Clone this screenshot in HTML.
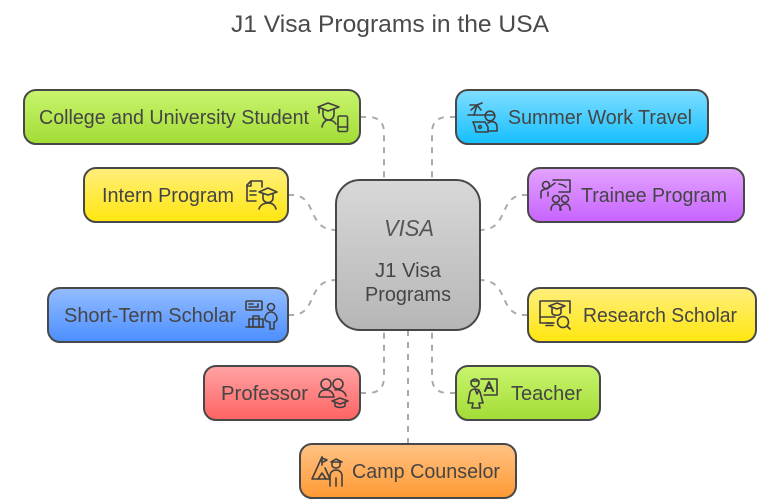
<!DOCTYPE html>
<html><head><meta charset="utf-8"><style>
html,body{margin:0;padding:0;background:#fff;width:780px;height:500px;overflow:hidden}
svg{display:block}
text{font-family:"Liberation Sans",sans-serif;font-size:20px;fill:#454545}
.b{stroke:#484848;stroke-width:2}
.c{fill:none;stroke:#aaaaaa;stroke-width:2;stroke-dasharray:6 6}
.i{fill:none;stroke:#3f3f3f;stroke-width:1.6;stroke-linecap:round;stroke-linejoin:round}
</style></head><body>
<svg width="780" height="500" viewBox="0 0 780 500" xmlns="http://www.w3.org/2000/svg">
<defs>
<linearGradient id="gr" x1="0" y1="0" x2="0" y2="1"><stop offset="0" stop-color="#c9f56e"/><stop offset="1" stop-color="#a2dc35"/></linearGradient>
<linearGradient id="ye" x1="0" y1="0" x2="0" y2="1"><stop offset="0" stop-color="#ffef7c"/><stop offset="1" stop-color="#ffe60f"/></linearGradient>
<linearGradient id="cy" x1="0" y1="0" x2="0" y2="1"><stop offset="0" stop-color="#80deff"/><stop offset="1" stop-color="#14bfff"/></linearGradient>
<linearGradient id="pu" x1="0" y1="0" x2="0" y2="1"><stop offset="0" stop-color="#e3a3ff"/><stop offset="1" stop-color="#c763ff"/></linearGradient>
<linearGradient id="bl" x1="0" y1="0" x2="0" y2="1"><stop offset="0" stop-color="#94bdff"/><stop offset="1" stop-color="#4b8eff"/></linearGradient>
<linearGradient id="re" x1="0" y1="0" x2="0" y2="1"><stop offset="0" stop-color="#ffa3a3"/><stop offset="1" stop-color="#ff6363"/></linearGradient>
<linearGradient id="or" x1="0" y1="0" x2="0" y2="1"><stop offset="0" stop-color="#ffc285"/><stop offset="1" stop-color="#ff9a33"/></linearGradient>
<linearGradient id="gy" x1="0" y1="0" x2="0" y2="1"><stop offset="0" stop-color="#d8d8d8"/><stop offset="1" stop-color="#b6b6b6"/></linearGradient>
</defs>

<text x="390" y="32" text-anchor="middle" textLength="318" lengthAdjust="spacingAndGlyphs" style="font-size:24px;fill:#4a4a4a">J1 Visa Programs in the USA</text>

<!-- connectors -->
<path class="c" d="M360 117H368Q384 117 384 133V180"/>
<path class="c" d="M456 117H448Q432 117 432 133V180"/>
<path class="c" d="M288 195H292C318 195 306 230 336 230"/>
<path class="c" d="M528 195H524C498 195 510 230 480 230"/>
<path class="c" d="M288 315H292C318 315 306 280 336 280"/>
<path class="c" d="M528 315H524C498 315 510 280 480 280"/>
<path class="c" d="M360 393H368Q384 393 384 377V330"/>
<path class="c" d="M456 393H448Q432 393 432 377V330"/>
<path class="c" d="M408 444V330"/>

<!-- nodes -->
<rect class="b" x="24" y="90" width="336" height="54" rx="12" fill="url(#gr)"/>
<rect class="b" x="84" y="168" width="204" height="54" rx="12" fill="url(#ye)"/>
<rect class="b" x="48" y="288" width="240" height="54" rx="12" fill="url(#bl)"/>
<rect class="b" x="204" y="366" width="156" height="54" rx="12" fill="url(#re)"/>
<rect class="b" x="456" y="90" width="252" height="54" rx="12" fill="url(#cy)"/>
<rect class="b" x="528" y="168" width="216" height="54" rx="12" fill="url(#pu)"/>
<rect class="b" x="528" y="288" width="228" height="54" rx="12" fill="url(#ye)"/>
<rect class="b" x="456" y="366" width="144" height="54" rx="12" fill="url(#gr)"/>
<rect class="b" x="300" y="444" width="216" height="54" rx="12" fill="url(#or)"/>
<rect class="b" x="336" y="180" width="144" height="150" rx="24" fill="url(#gy)"/>

<!-- labels -->
<text x="39" y="124" textLength="270" lengthAdjust="spacingAndGlyphs">College and University Student</text>
<text x="102" y="202" textLength="132" lengthAdjust="spacingAndGlyphs">Intern Program</text>
<text x="64" y="322" textLength="172" lengthAdjust="spacingAndGlyphs">Short-Term Scholar</text>
<text x="221" y="400" textLength="87" lengthAdjust="spacingAndGlyphs">Professor</text>
<text x="508" y="124" textLength="184" lengthAdjust="spacingAndGlyphs">Summer Work Travel</text>
<text x="581" y="202" textLength="146" lengthAdjust="spacingAndGlyphs">Trainee Program</text>
<text x="583" y="322" textLength="154" lengthAdjust="spacingAndGlyphs">Research Scholar</text>
<text x="511" y="400" textLength="71" lengthAdjust="spacingAndGlyphs">Teacher</text>
<text x="352" y="478" textLength="148" lengthAdjust="spacingAndGlyphs">Camp Counselor</text>
<text x="375" y="277" textLength="66" lengthAdjust="spacingAndGlyphs">J1 Visa</text>
<text x="365" y="301" textLength="86" lengthAdjust="spacingAndGlyphs">Programs</text>
<text x="384" y="236" textLength="50" lengthAdjust="spacingAndGlyphs" style="font-size:23px;font-style:italic;fill:#555">VISA</text>

<!-- icons -->
<g class="i">
<!-- college -->
<path d="M318 107L328 103L339 107L328 111Z"/><path d="M319 107V113M323 109V114C323 122 334 122 334 114V109"/><path d="M322 127C323 122 326 120 328 120C331 120 334 121 336 124"/>
<rect x="338" y="116" width="9.500" height="15.500" rx="1.500"/><path d="M339 127H347"/>
<!-- intern -->
<path d="M256 201H247V185L251 181H262V187"/><path d="M251 181V186H247M250 191H256M250 195H256"/>
<path d="M259 192L268 188L277 192L268 195Z"/><path d="M263 194V198C263 204 273 204 273 198V194"/><path d="M259 209C260 205 264 203 268 203C272 203 275 205 276 209"/>
<!-- short term -->
<rect x="246" y="301" width="16" height="9" rx="1"/><path d="M249 304H253M249 307H257M258 304V307"/>
<rect x="249" y="319" width="14" height="8"/><path d="M253 319V316H259V319M253 319V327M259 319V327M246 327H264"/>
<circle cx="271" cy="307" r="3.500"/><path d="M265 319C265 315 268 312 271 312C274 312 277 315 277 319C277 321 275 322 274 322V329H270V322C268 322 265 321 265 319Z"/>
<!-- professor -->
<circle cx="326" cy="384" r="5"/><circle cx="338" cy="384" r="5"/>
<path d="M319 397C319 392 322 390 326 390C330 390 333 392 334 397Z"/><path d="M335 390C339 389 345 391 346 396"/>
<path d="M332 401L340 398L348 401L340 404Z"/><path d="M335 403V406C338 408 342 408 345 406V403"/>
<!-- summer -->
<path d="M470 105L477 105L482 103M477 105L471 110M477 105L481 110M477 105L474 115"/><path d="M468 115H485"/>
<circle cx="490" cy="116" r="4.800"/><path d="M486 115H494"/>
<path d="M475 127L473 122H485L488 127V132H476Z"/><circle cx="480" cy="127" r="1.400"/><path d="M488 123C492 120 497 122 497 127V131H489"/>
<!-- trainee -->
<circle cx="546" cy="185" r="3.500"/><path d="M541 198V192C541 190 545 189 547 189L555 183M548 192V196"/>
<path d="M553 180H570V192H559"/><path d="M559 184L563 185L566 187"/>
<circle cx="556" cy="199" r="3.500"/><circle cx="565" cy="199" r="3.500"/><path d="M551 210C551 205 554 204 556 204C559 204 560 205 561 210M560 210C560 205 563 204 565 204C568 204 570 205 570 210"/>
<!-- research -->
<path d="M553 323H540V301H570V313"/><path d="M540 317H555M546 323H554M546 325.500H553"/>
<path d="M549 306L557 303L565 306L557 309Z"/><path d="M552 308V313C553 316 560 316 561 313V308"/>
<circle cx="563" cy="322" r="5.500"/><path d="M567 326L570 329"/>
<!-- teacher -->
<circle cx="475" cy="383" r="4"/><path d="M471 381H479"/>
<path d="M470 392L468 403H473L472 408H480L479 403H483L480 392C478 388 472 388 470 392Z"/><path d="M475 389L477 394L479 390"/>
<path d="M481 379H497V395H484"/><path d="M485 391L489 382L493 391M486.500 388H491.500" stroke-width="2"/>
<!-- camp -->
<path d="M322 457L312 479H330L325 468"/><path d="M322 457V465M322 458L327 460L323 462"/><path d="M318 479L322 473L326 479"/>
<path d="M331 462L336 459L342 462M332 462H341"/><path d="M332 463V465C332 469 340 469 340 465V463"/>
<path d="M330 486V476C330 472 333 470 336 470C339 470 342 472 342 476V486M336 478V486"/>
</g>
</svg>
</body></html>
